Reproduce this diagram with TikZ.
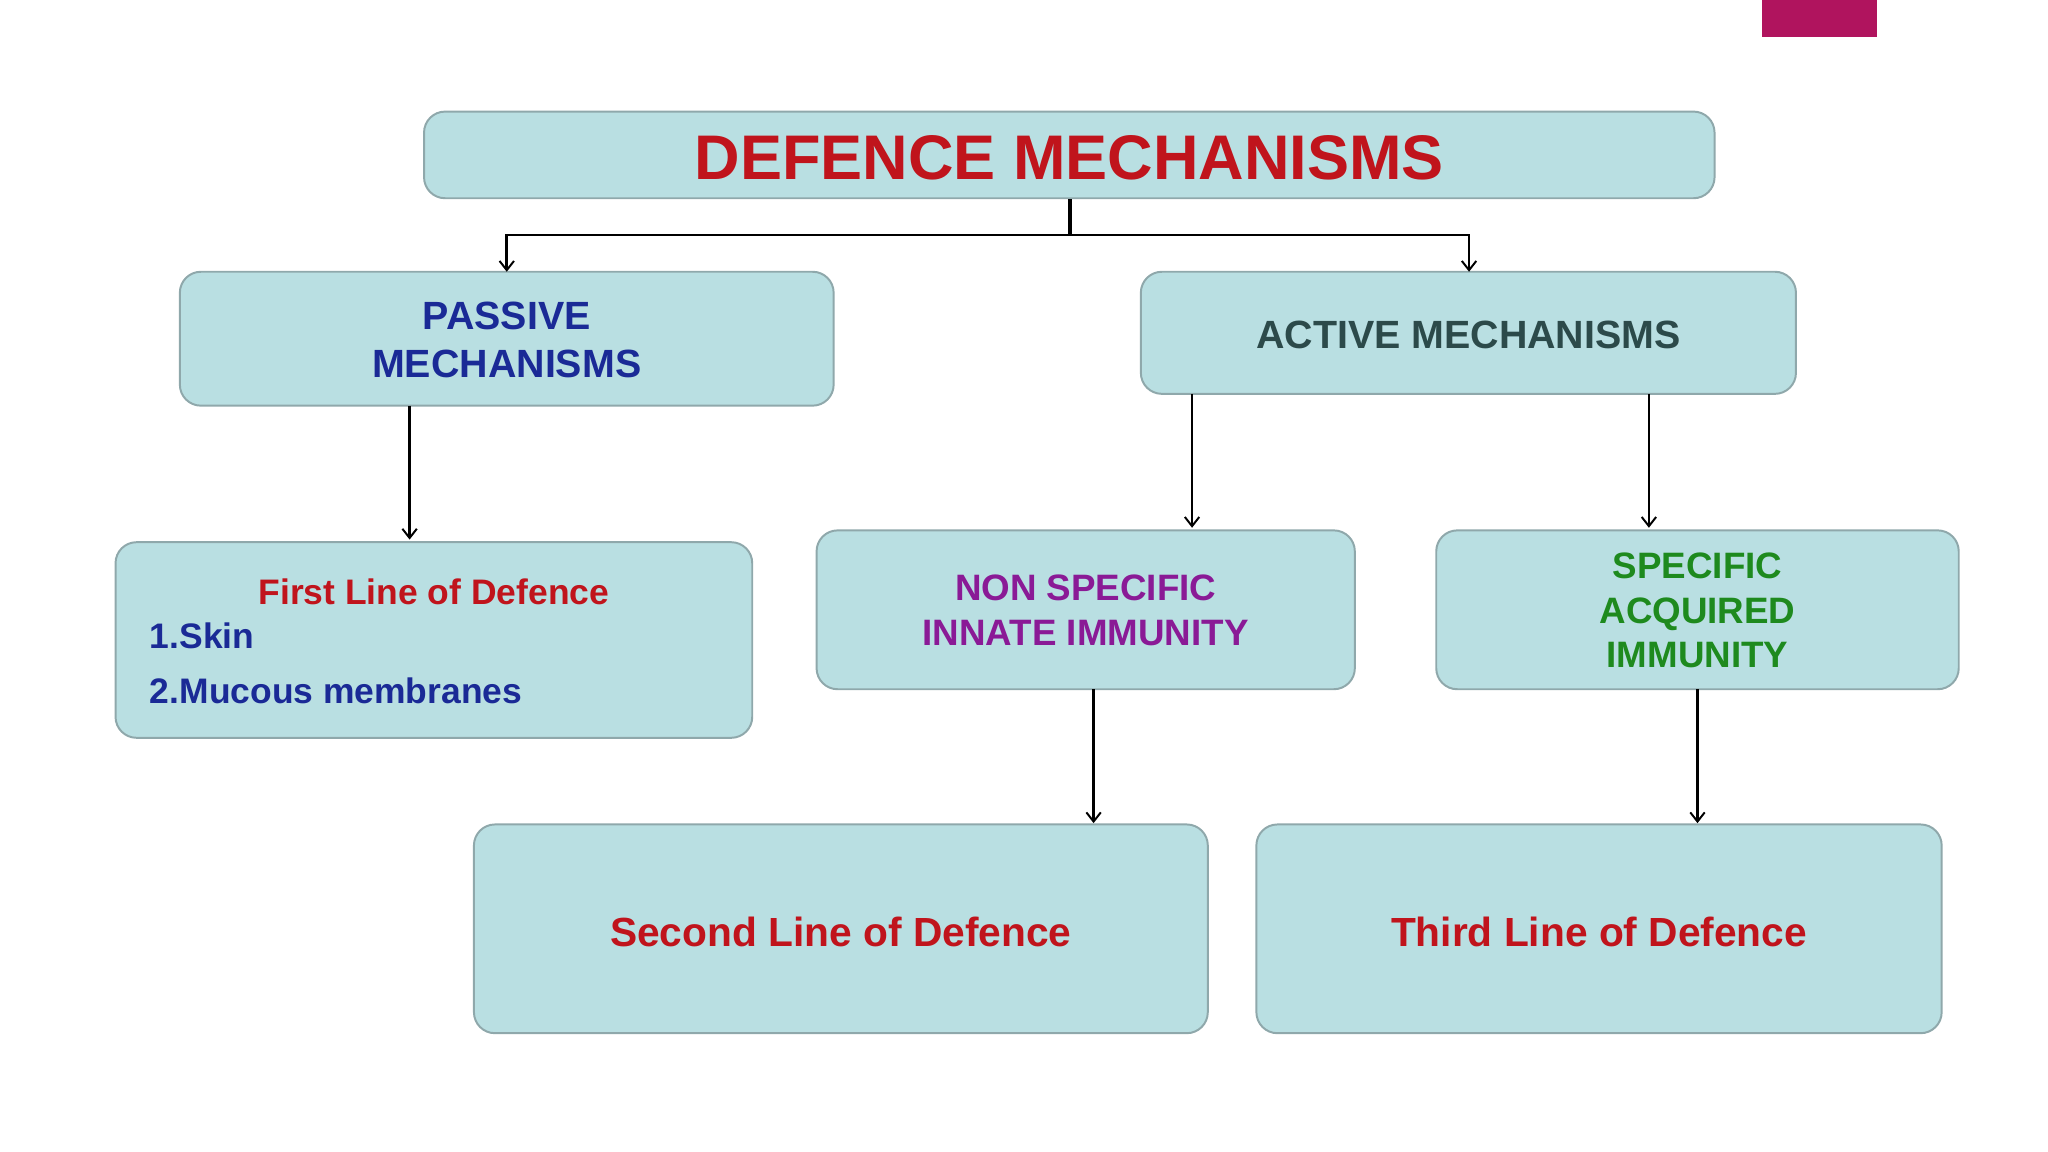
\documentclass[tikz,border=0pt]{standalone}
\usepackage{fontspec}
\setmainfont{Liberation Sans}
\usetikzlibrary{arrows.meta}
\definecolor{boxfill}{HTML}{B9DFE2}
\definecolor{boxline}{HTML}{8FA8AB}
\definecolor{tred}{HTML}{C0141C}
\definecolor{tblue}{HTML}{1A2A96}
\definecolor{tslate}{HTML}{2C4A4A}
\definecolor{tpurple}{HTML}{8A1A96}
\definecolor{tgreen}{HTML}{1E8A1E}
\definecolor{mag}{HTML}{B0145E}
\begin{document}
\begin{tikzpicture}[x=1pt,y=-1pt,
  box/.style={draw=boxline,line width=1.5pt,fill=boxfill,rounded corners=16pt,inner sep=0pt},
  lbl/.style={font=\bfseries,align=center,inner sep=0pt},
  arr/.style={line width=2pt,-{Straight Barb[length=7pt,width=11pt,line width=1.5pt]}}]
\useasboundingbox (0,0) rectangle (1560,877.5);
\fill[mag] (1342,0) rectangle (1430,28);
% boxes
\node[box,minimum width=983pt,minimum height=66pt] (top) at (814.5,118) {};
\node[box,minimum width=498pt,minimum height=102pt] (pas) at (386,258) {};
\node[box,minimum width=499pt,minimum height=93pt] (act) at (1118.5,253.5) {};
\node[box,minimum width=485pt,minimum height=149pt] (first) at (330.5,487.5) {};
\node[box,minimum width=410pt,minimum height=121pt] (non) at (827,464.5) {};
\node[box,minimum width=398pt,minimum height=121pt] (spec) at (1293,464.5) {};
\node[box,minimum width=559pt,minimum height=159pt] (second) at (640.5,707.5) {};
\node[box,minimum width=522pt,minimum height=159pt] (third) at (1218,707.5) {};
% texts
\node[lbl,text=tred,font=\bfseries\fontsize{48}{50}\selectfont] (tt) at (814.5,120) {DEFENCE MECHANISMS};
\node[lbl,text=tblue,font=\bfseries\fontsize{30}{37}\selectfont] (pt) at (386,259) {PASSIVE\\MECHANISMS};
\node[lbl,text=tslate,font=\bfseries\fontsize{30}{36}\selectfont] (at) at (1118.5,255) {ACTIVE MECHANISMS};
\node[lbl,text=tred,font=\bfseries\fontsize{27}{30}\selectfont] (ft) at (330.5,451) {First Line of Defence};
\node[lbl,text=tblue,font=\bfseries\fontsize{27}{30}\selectfont,anchor=west] (f1) at (114,484) {1.Skin};
\node[lbl,text=tblue,font=\bfseries\fontsize{27}{30}\selectfont,anchor=west] (f2) at (114,526) {2.Mucous membranes};
\node[lbl,text=tpurple,font=\bfseries\fontsize{28}{34}\selectfont] (nt) at (827,465) {NON SPECIFIC\\INNATE IMMUNITY};
\node[lbl,text=tgreen,font=\bfseries\fontsize{28}{34}\selectfont] (st) at (1293,465) {SPECIFIC\\ACQUIRED\\IMMUNITY};
\node[lbl,text=tred,font=\bfseries\fontsize{31}{34}\selectfont] (sct) at (640.5,710) {Second Line of Defence};
\node[lbl,text=tred,font=\bfseries\fontsize{31}{34}\selectfont] (tht) at (1218,710) {Third Line of Defence};
% connectors
\coordinate (j) at (815,179);
\draw[line width=3pt] (top.south -| j) -- (j);
\draw[arr] (j) -| (386,207);
\draw[arr] (j) -| (1119,207);
\draw[arr] (312,309) -- (312,411);
\draw[arr] (908,300) -- (908,402);
\draw[arr] (1256,300) -- (1256,402);
\draw[arr] (833,525) -- (833,627);
\draw[arr] (1293,525) -- (1293,627);
\end{tikzpicture}
\end{document}
